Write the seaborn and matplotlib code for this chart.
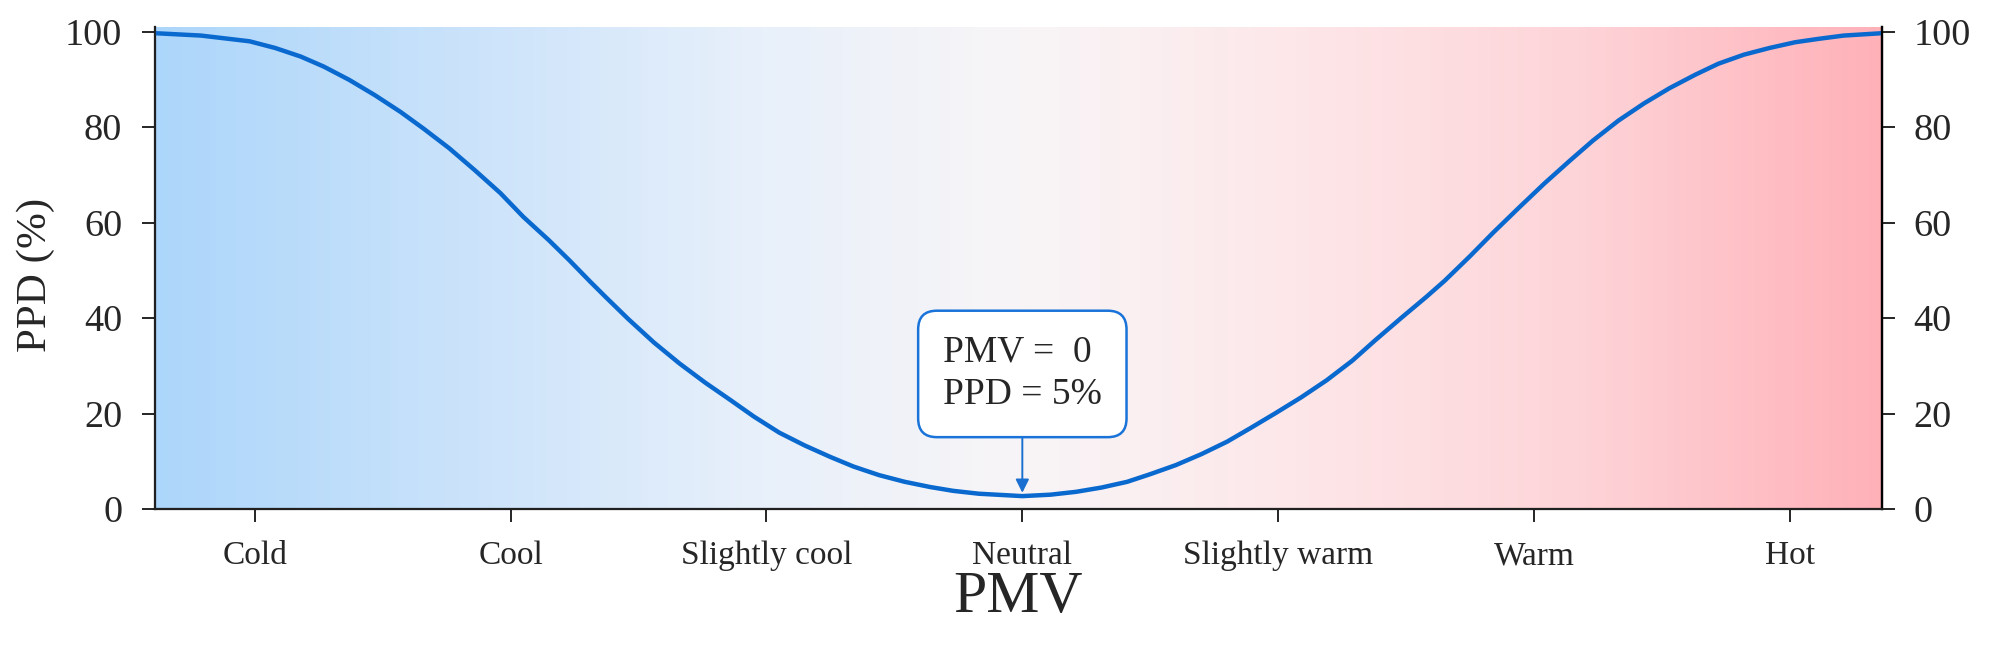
import numpy as np
import pandas as pd
import seaborn as sns
import matplotlib.pyplot as plt
from matplotlib.colors import LinearSegmentedColormap

# PMV / PPD values
pmv = [-3.39, -3.21, -3.02, -2.92, -2.82, -2.73, -2.63, -2.53, -2.43, -2.34,
       -2.24, -2.14, -2.04, -1.95, -1.85, -1.77, -1.69, -1.63, -1.54, -1.44,
       -1.34, -1.24, -1.14, -1.05, -0.95, -0.85, -0.75, -0.66, -0.56, -0.46,
       -0.36, -0.27, -0.17, 0.0, 0.11, 0.21, 0.31, 0.41, 0.50, 0.60,
       0.70, 0.80, 0.89, 0.99, 1.09, 1.19, 1.29, 1.38, 1.48, 1.58,
       1.65, 1.75, 1.84, 1.94, 2.04, 2.14, 2.23, 2.33, 2.43, 2.53,
       2.63, 2.72, 2.82, 2.92, 3.02, 3.11, 3.21, 3.36]
ppd = [99.7, 99.2, 98.0, 96.6, 94.8, 92.7, 89.9, 86.7, 83.2, 79.7,
       75.6, 71.0, 66.2, 61.2, 56.3, 52.1, 47.7, 44.5, 39.8, 34.9,
       30.5, 26.5, 22.8, 19.4, 16.0, 13.3, 10.9, 8.9, 7.1, 5.7,
       4.6, 3.8, 3.2, 2.7, 3.0, 3.6, 4.5, 5.7, 7.3, 9.2,
       11.5, 14.1, 16.9, 20.1, 23.4, 27.0, 31.1, 35.4, 40.0, 44.5,
       47.8, 53.0, 57.9, 63.1, 68.2, 73.0, 77.2, 81.4, 85.0, 88.2,
       91.0, 93.3, 95.2, 96.6, 97.8, 98.5, 99.2, 99.7]

tick_pos = [-3, -2, -1, 0, 1, 2, 3]
tick_labels = ['Cold', 'Cool', 'Slightly cool', 'Neutral', 'Slightly warm', 'Warm', 'Hot']
y_ticks = [0, 20, 40, 60, 80, 100]

df = pd.DataFrame({'PMV': pmv, 'PPD': ppd})

sns.set_theme(style='ticks')
plt.rcParams['font.family'] = ['Liberation Serif', 'DejaVu Serif']

fig = plt.figure(figsize=(19.91, 6.47), dpi=100)
ax = fig.add_axes([0.0778, 0.2133, 0.8675, 0.745])

xmin, xmax = -3.39, 3.36
ymin, ymax = 0, 101

# background gradient, blue (cold) -> white -> red (hot)
bg = LinearSegmentedColormap.from_list('bg', [
    (0.0, '#acd6fb'), (0.18, '#cbe3fa'), (0.35, '#e8f0fa'), (0.5, '#f8f5f7'),
    (0.65, '#fde8ea'), (0.82, '#fdd5d9'), (1.0, '#ffb1b8')])
grad = np.linspace(0, 1, 512).reshape(1, -1)
ax.imshow(grad, cmap=bg, aspect='auto', extent=[xmin, xmax, ymin, ymax], zorder=0)

sns.lineplot(data=df, x='PMV', y='PPD', ax=ax, color='#0a69cf', lw=3.2, zorder=3)

ax.set_xlim(xmin, xmax)
ax.set_ylim(ymin, ymax)
ax.set_xticks(tick_pos)
ax.set_xticklabels(tick_labels, fontsize=24)
ax.set_yticks(y_ticks)
ax.tick_params(axis='y', labelsize=27.5, length=9.5, width=1.4, pad=14)
ax.tick_params(axis='x', length=9, width=1.4, pad=14)
ax.set_xlabel('PMV', fontsize=43, labelpad=0)
ax.set_ylabel('PPD (%)', fontsize=31, labelpad=9)
ax.yaxis.set_label_coords(-0.058, 0.485)
for s in ['left', 'bottom', 'right']:
    ax.spines[s].set_linewidth(1.6)
    ax.spines[s].set_color('black')
ax.spines['top'].set_visible(False)

ax2 = ax.twinx()
ax2.set_ylim(ymin, ymax)
ax2.set_yticks(y_ticks)
ax2.tick_params(axis='y', labelsize=27.5, length=9.5, width=1.4, pad=13)
ax2.spines['top'].set_visible(False)
ax2.spines['right'].set_linewidth(1.6)
ax2.spines['right'].set_color('black')
ax2.grid(False)

ax.annotate('PMV =  0\nPPD = 5%', xy=(0, 3.4), xytext=(0, 28.3),
            ha='center', va='center', multialignment='left',
            fontsize=27, linespacing=1.3,
            bbox=dict(boxstyle='round,pad=0.66,rounding_size=0.5', fc='white',
                      ec='#1a73d9', lw=1.8),
            arrowprops=dict(arrowstyle='-|>', color='#1a6fd0', lw=1.4,
                            mutation_scale=20, shrinkA=0, shrinkB=0),
            zorder=5)

fig.savefig('out.png', dpi=100)
